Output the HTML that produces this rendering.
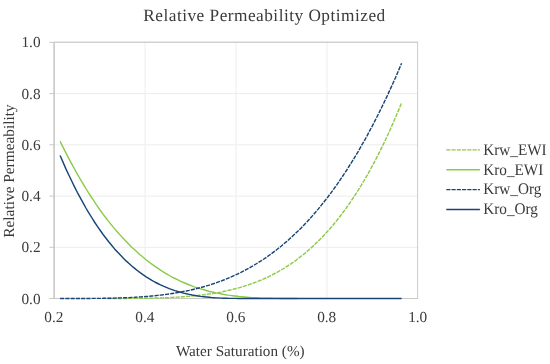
<!DOCTYPE html>
<html><head><meta charset="utf-8"><title>Relative Permeability Optimized</title>
<style>
html,body{margin:0;padding:0;background:#fff;}
body{width:550px;height:364px;overflow:hidden;}
svg{display:block;}
text{text-rendering:geometricPrecision;font-family:"Liberation Serif","Times New Roman",serif;fill:#3a3a3a;}
</style></head><body>
<svg width="550" height="364" viewBox="0 0 550 364">
<rect width="550" height="364" fill="#ffffff"/>
<g stroke="#ededed" stroke-width="1" fill="none">
<line x1="54.1" y1="247.3" x2="418.0" y2="247.3"/>
<line x1="54.1" y1="196.1" x2="418.0" y2="196.1"/>
<line x1="54.1" y1="144.8" x2="418.0" y2="144.8"/>
<line x1="54.1" y1="93.6" x2="418.0" y2="93.6"/>
<line x1="145.1" y1="42.4" x2="145.1" y2="298.5"/>
<line x1="236.1" y1="42.4" x2="236.1" y2="298.5"/>
<line x1="327.0" y1="42.4" x2="327.0" y2="298.5"/>
</g>
<path d="M54.1,42.2 H418.0" stroke="#d0d0d0" stroke-width="1.45" fill="none"/>
<path d="M417.6,42.1 V298.9" stroke="#c6c6c6" stroke-width="0.9" fill="none"/>
<path d="M54.1,42.4 V298.5" stroke="#c8c8c8" stroke-width="1.6" fill="none"/>
<path d="M54.1,298.5 H418.0" stroke="#c8c8c8" stroke-width="1" fill="none"/>
<g stroke="#c8c8c8" stroke-width="1" fill="none">
<line x1="49.4" y1="298.5" x2="54.1" y2="298.5"/>
<line x1="49.4" y1="247.3" x2="54.1" y2="247.3"/>
<line x1="49.4" y1="196.1" x2="54.1" y2="196.1"/>
<line x1="49.4" y1="144.8" x2="54.1" y2="144.8"/>
<line x1="49.4" y1="93.6" x2="54.1" y2="93.6"/>
<line x1="49.4" y1="42.4" x2="54.1" y2="42.4"/>
</g>
<g fill="none" stroke-width="1.42" stroke-linejoin="round">
<path d="M107.3,298.5 L110.0,298.5 L112.7,298.5 L115.4,298.5 L118.1,298.5 L120.8,298.5 L123.5,298.5 L126.2,298.5 L128.9,298.4 L131.6,298.4 L134.3,298.4 L137.0,298.4 L139.7,298.3 L142.4,298.3 L145.1,298.3 L147.8,298.2 L150.5,298.2 L153.2,298.1 L155.9,298.0 L158.6,298.0 L161.3,297.9 L164.0,297.8 L166.7,297.7 L169.4,297.6 L172.1,297.4 L174.8,297.3 L177.5,297.1 L180.2,297.0 L182.9,296.8 L185.6,296.6 L188.3,296.4 L191.0,296.1 L193.7,295.9 L196.4,295.6 L199.1,295.3 L201.8,295.0 L204.5,294.7 L207.2,294.3 L209.9,293.9 L212.6,293.5 L215.3,293.0 L218.0,292.6 L220.7,292.1 L223.4,291.5 L226.1,291.0 L228.8,290.3 L231.5,289.7 L234.2,289.0 L236.9,288.3 L239.6,287.6 L242.3,286.8 L245.0,285.9 L247.7,285.1 L250.4,284.1 L253.1,283.2 L255.8,282.2 L258.5,281.1 L261.2,280.0 L263.9,278.8 L266.6,277.6 L269.3,276.3 L272.0,274.9 L274.7,273.5 L277.4,272.1 L280.1,270.5 L282.8,269.0 L285.5,267.3 L288.2,265.6 L290.9,263.8 L293.6,261.9 L296.3,260.0 L299.0,257.9 L301.7,255.8 L304.4,253.7 L307.1,251.4 L309.8,249.0 L312.5,246.6 L315.2,244.1 L317.9,241.5 L320.6,238.8 L323.3,236.0 L326.0,233.1 L328.7,230.1 L331.4,227.0 L334.1,223.8 L336.8,220.5 L339.5,217.0 L342.2,213.5 L344.9,209.9 L347.6,206.1 L350.3,202.2 L353.0,198.2 L355.7,194.1 L358.4,189.9 L361.1,185.5 L363.8,181.0 L366.5,176.4 L369.2,171.6 L371.9,166.7 L374.6,161.6 L377.3,156.4 L380.0,151.1 L382.7,145.6 L385.4,140.0 L388.1,134.2 L390.8,128.2 L393.5,122.1 L396.2,115.8 L398.9,109.4 L401.6,102.8" stroke="#8dca47" stroke-dasharray="4.15 1.1"/>
<path d="M60.1,141.2 L62.5,146.1 L64.9,150.9 L67.3,155.6 L69.7,160.1 L72.1,164.6 L74.5,169.0 L76.9,173.3 L79.3,177.5 L81.7,181.6 L84.1,185.6 L86.5,189.5 L88.9,193.3 L91.3,197.0 L93.7,200.6 L96.0,204.2 L98.4,207.6 L100.8,211.0 L103.2,214.3 L105.6,217.5 L108.0,220.6 L110.4,223.6 L112.8,226.6 L115.2,229.4 L117.6,232.2 L120.0,234.9 L122.4,237.6 L124.8,240.1 L127.2,242.6 L129.6,245.0 L132.0,247.4 L134.4,249.6 L136.8,251.8 L139.2,254.0 L141.6,256.0 L144.0,258.0 L146.4,260.0 L148.8,261.9 L151.2,263.7 L153.6,265.4 L156.0,267.1 L158.4,268.7 L160.8,270.3 L163.2,271.8 L165.6,273.3 L167.9,274.7 L170.3,276.0 L172.7,277.3 L175.1,278.5 L177.5,279.7 L179.9,280.9 L182.3,282.0 L184.7,283.0 L187.1,284.0 L189.5,285.0 L191.9,285.9 L194.3,286.8 L196.7,287.6 L199.1,288.4 L201.5,289.1 L203.9,289.8 L206.3,290.5 L208.7,291.2 L211.1,291.8 L213.5,292.3 L215.9,292.9 L218.3,293.4 L220.7,293.8 L223.1,294.3 L225.5,294.7 L227.9,295.1 L230.3,295.4 L232.7,295.7 L235.1,296.0 L237.5,296.3 L239.8,296.6 L242.2,296.8 L244.6,297.0 L247.0,297.2 L249.4,297.4 L251.8,297.6 L254.2,297.7 L256.6,297.8 L259.0,298.0 L261.4,298.1 L263.8,298.1 L266.2,298.2 L268.6,298.3 L271.0,298.3 L273.4,298.4 L275.8,298.4 L278.2,298.4 L280.6,298.5 L283.0,298.5 L285.4,298.5 L287.8,298.5 L290.2,298.5 L292.6,298.5 L295.0,298.5 L297.4,298.5" stroke="#8dca47"/>
<path d="M60.1,298.5 L63.0,298.5 L65.8,298.5 L68.7,298.5 L71.6,298.5 L74.4,298.5 L77.3,298.5 L80.2,298.5 L83.1,298.5 L85.9,298.5 L88.8,298.5 L91.7,298.4 L94.5,298.4 L97.4,298.4 L100.3,298.4 L103.1,298.3 L106.0,298.3 L108.9,298.2 L111.8,298.2 L114.6,298.1 L117.5,298.0 L120.4,297.9 L123.2,297.8 L126.1,297.7 L129.0,297.6 L131.8,297.4 L134.7,297.3 L137.6,297.1 L140.5,296.9 L143.3,296.7 L146.2,296.5 L149.1,296.3 L151.9,296.0 L154.8,295.7 L157.7,295.4 L160.5,295.1 L163.4,294.7 L166.3,294.4 L169.2,294.0 L172.0,293.5 L174.9,293.1 L177.8,292.6 L180.6,292.1 L183.5,291.5 L186.4,291.0 L189.2,290.4 L192.1,289.7 L195.0,289.0 L197.8,288.3 L200.7,287.6 L203.6,286.8 L206.5,285.9 L209.3,285.1 L212.2,284.1 L215.1,283.2 L217.9,282.2 L220.8,281.1 L223.7,280.0 L226.5,278.9 L229.4,277.7 L232.3,276.4 L235.2,275.1 L238.0,273.8 L240.9,272.4 L243.8,270.9 L246.6,269.4 L249.5,267.8 L252.4,266.2 L255.2,264.5 L258.1,262.7 L261.0,260.9 L263.9,259.0 L266.7,257.1 L269.6,255.0 L272.5,252.9 L275.3,250.8 L278.2,248.5 L281.1,246.2 L283.9,243.8 L286.8,241.4 L289.7,238.8 L292.5,236.2 L295.4,233.5 L298.3,230.7 L301.2,227.9 L304.0,224.9 L306.9,221.9 L309.8,218.8 L312.6,215.6 L315.5,212.3 L318.4,208.9 L321.2,205.4 L324.1,201.8 L327.0,198.1 L329.9,194.3 L332.7,190.5 L335.6,186.5 L338.5,182.4 L341.3,178.2 L344.2,173.9 L347.1,169.5 L349.9,165.0 L352.8,160.4 L355.7,155.7 L358.6,150.8 L361.4,145.8 L364.3,140.8 L367.2,135.6 L370.0,130.2 L372.9,124.8 L375.8,119.2 L378.6,113.6 L381.5,107.7 L384.4,101.8 L387.3,95.7 L390.1,89.5 L393.0,83.2 L395.9,76.7 L398.7,70.1 L401.6,63.3" stroke="#184476" stroke-dasharray="4.15 1.1"/>
<path d="M60.1,155.5 L63.0,162.1 L65.8,168.6 L68.7,174.8 L71.6,180.8 L74.4,186.6 L77.3,192.3 L80.2,197.7 L83.1,202.9 L85.9,208.0 L88.8,212.8 L91.7,217.5 L94.5,222.0 L97.4,226.3 L100.3,230.5 L103.1,234.5 L106.0,238.3 L108.9,242.0 L111.8,245.5 L114.6,248.9 L117.5,252.1 L120.4,255.1 L123.2,258.1 L126.1,260.9 L129.0,263.5 L131.8,266.0 L134.7,268.4 L137.6,270.7 L140.5,272.9 L143.3,274.9 L146.2,276.8 L149.1,278.6 L151.9,280.4 L154.8,282.0 L157.7,283.5 L160.5,284.9 L163.4,286.2 L166.3,287.4 L169.2,288.6 L172.0,289.6 L174.9,290.6 L177.8,291.5 L180.6,292.3 L183.5,293.1 L186.4,293.8 L189.2,294.4 L192.1,295.0 L195.0,295.5 L197.8,296.0 L200.7,296.4 L203.6,296.7 L206.5,297.0 L209.3,297.3 L212.2,297.6 L215.1,297.8 L217.9,297.9 L220.8,298.1 L223.7,298.2 L226.5,298.3 L229.4,298.4 L232.3,298.4 L235.2,298.4 L238.0,298.5 L240.9,298.5 L243.8,298.5 L246.6,298.5 L249.5,298.5 L252.4,298.5 L255.2,298.5 L258.1,298.5 L261.0,298.5 L263.9,298.5 L266.7,298.5 L269.6,298.5 L272.5,298.5 L275.3,298.5 L278.2,298.5 L281.1,298.5 L283.9,298.5 L286.8,298.5 L289.7,298.5 L292.5,298.5 L295.4,298.5 L298.3,298.5 L301.2,298.5 L304.0,298.5 L306.9,298.5 L309.8,298.5 L312.6,298.5 L315.5,298.5 L318.4,298.5 L321.2,298.5 L324.1,298.5 L327.0,298.5 L329.9,298.5 L332.7,298.5 L335.6,298.5 L338.5,298.5 L341.3,298.5 L344.2,298.5 L347.1,298.5 L349.9,298.5 L352.8,298.5 L355.7,298.5 L358.6,298.5 L361.4,298.5 L364.3,298.5 L367.2,298.5 L370.0,298.5 L372.9,298.5 L375.8,298.5 L378.6,298.5 L381.5,298.5 L384.4,298.5 L387.3,298.5 L390.1,298.5 L393.0,298.5 L395.9,298.5 L398.7,298.5 L401.6,298.5" stroke="#184476"/>
</g>
<text x="264.5" y="20.8" font-size="17.3" text-anchor="middle" letter-spacing="0.48">Relative Permeability Optimized</text>
<text x="40.6" y="303.55" font-size="15.3" text-anchor="end">0.0</text>
<text x="40.6" y="252.33" font-size="15.3" text-anchor="end">0.2</text>
<text x="40.6" y="201.11" font-size="15.3" text-anchor="end">0.4</text>
<text x="40.6" y="149.89" font-size="15.3" text-anchor="end">0.6</text>
<text x="40.6" y="98.67" font-size="15.3" text-anchor="end">0.8</text>
<text x="40.6" y="47.45" font-size="15.3" text-anchor="end">1.0</text>
<text x="53.8" y="321.8" font-size="15.3" text-anchor="middle">0.2</text>
<text x="144.8" y="321.8" font-size="15.3" text-anchor="middle">0.4</text>
<text x="235.8" y="321.8" font-size="15.3" text-anchor="middle">0.6</text>
<text x="326.7" y="321.8" font-size="15.3" text-anchor="middle">0.8</text>
<text x="417.7" y="321.8" font-size="15.3" text-anchor="middle">1.0</text>
<text transform="translate(13.7,171.0) rotate(-90)" font-size="15.35" text-anchor="middle">Relative Permeability</text>
<text x="240.3" y="356.4" font-size="15.2" text-anchor="middle">Water Saturation (%)</text>
<line x1="446.3" y1="149.9" x2="479.9" y2="149.9" stroke="#8dca47" stroke-width="1.4" stroke-dasharray="4.15 1.1"/>
<text transform="translate(483.3,154.6) scale(0.94,1)" font-size="16.2">Krw_EWI</text>
<line x1="446.3" y1="169.8" x2="479.9" y2="169.8" stroke="#8dca47" stroke-width="1.4"/>
<text transform="translate(483.3,174.5) scale(0.94,1)" font-size="16.2">Kro_EWI</text>
<line x1="446.3" y1="189.6" x2="479.9" y2="189.6" stroke="#184476" stroke-width="1.4" stroke-dasharray="4.15 1.1"/>
<text transform="translate(483.3,194.3) scale(0.94,1)" font-size="16.2">Krw_Org</text>
<line x1="446.3" y1="209.5" x2="479.9" y2="209.5" stroke="#184476" stroke-width="1.4"/>
<text transform="translate(483.3,214.2) scale(0.94,1)" font-size="16.2">Kro_Org</text>
</svg></body></html>
